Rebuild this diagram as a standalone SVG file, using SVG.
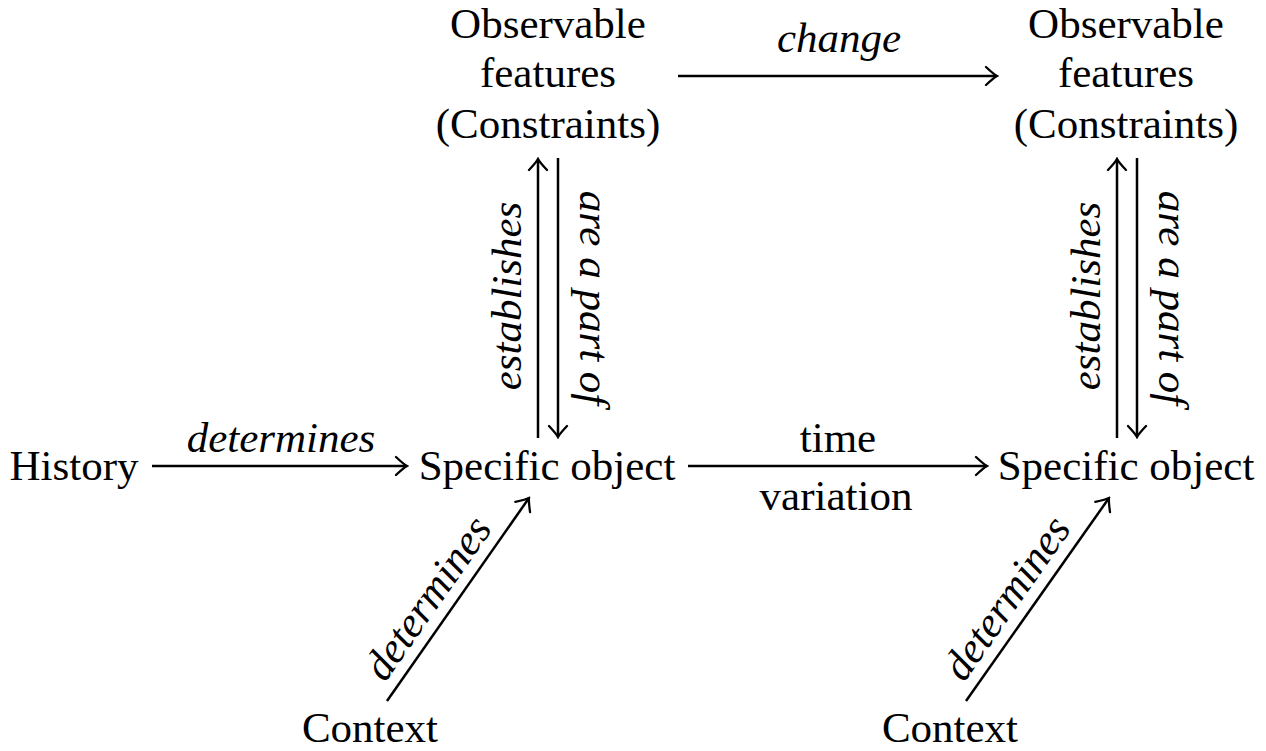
<svg xmlns="http://www.w3.org/2000/svg" width="1266" height="751" viewBox="0 0 1266 751">
<defs>
<style>
text{font-family:'Liberation Serif','Times New Roman','DejaVu Serif','Noto Serif',serif;font-size:43px;fill:#000;text-anchor:middle}
.it{font-style:italic}
.c{stroke:#000;stroke-width:2.5;fill:none}
</style>
<marker id="ah" viewBox="-13 -11 15 22" markerWidth="15" markerHeight="22" refX="0" refY="0" orient="auto" markerUnits="userSpaceOnUse">
<path d="M-11,-9 Q-3,-1.5 0,0 Q-3,1.5 -11,9" fill="none" stroke="#000" stroke-width="2.3" stroke-linecap="round"/>
</marker>
</defs>
<rect width="1266" height="751" fill="#fff"/>
<g font-family="Liberation Serif, serif">
<g id="connectors">
<line class="c" x1="152" y1="466" x2="407" y2="466" marker-end="url(#ah)"/>
<line class="c" x1="688" y1="466" x2="987" y2="466" marker-end="url(#ah)"/>
<line class="c" x1="678" y1="76" x2="997" y2="76" marker-end="url(#ah)"/>
<line class="c" x1="538" y1="438" x2="538" y2="159" marker-end="url(#ah)"/>
<line class="c" x1="558" y1="158" x2="558" y2="437" marker-end="url(#ah)"/>
<line class="c" x1="1117" y1="438" x2="1117" y2="159" marker-end="url(#ah)"/>
<line class="c" x1="1137" y1="158" x2="1137" y2="437" marker-end="url(#ah)"/>
<line class="c" x1="387" y1="701" x2="529" y2="498" marker-end="url(#ah)"/>
<line class="c" x1="966" y1="701" x2="1109" y2="498" marker-end="url(#ah)"/>
<text class="it" x="281" y="452">determines</text>
<text x="838" y="452">time</text>
<text x="836" y="510">variation</text>
<text class="it" x="839" y="52">change</text>
<text class="it" transform="translate(521,296) rotate(-90)">establishes</text>
<text class="it" transform="translate(580,298) rotate(90)">are a part of</text>
<text class="it" transform="translate(1100,296) rotate(-90)">establishes</text>
<text class="it" transform="translate(1159,298) rotate(90)">are a part of</text>
<text class="it" transform="translate(439,606) rotate(-55)">determines</text>
<text class="it" transform="translate(1018,606) rotate(-55)">determines</text>
</g>
<g id="history"><text x="74" y="480">History</text></g>
<g id="specific1"><text x="547" y="480">Specific object</text></g>
<g id="specific2"><text x="1126" y="480">Specific object</text></g>
<g id="observable1"><text x="548" y="38">Observable</text><text x="548" y="87">features</text><text x="548" y="138">(Constraints)</text></g>
<g id="observable2"><text x="1126" y="38">Observable</text><text x="1126" y="87">features</text><text x="1126" y="138">(Constraints)</text></g>
<g id="context1"><text x="370" y="742">Context</text></g>
<g id="context2"><text x="950" y="742">Context</text></g>
</g>
</svg>
